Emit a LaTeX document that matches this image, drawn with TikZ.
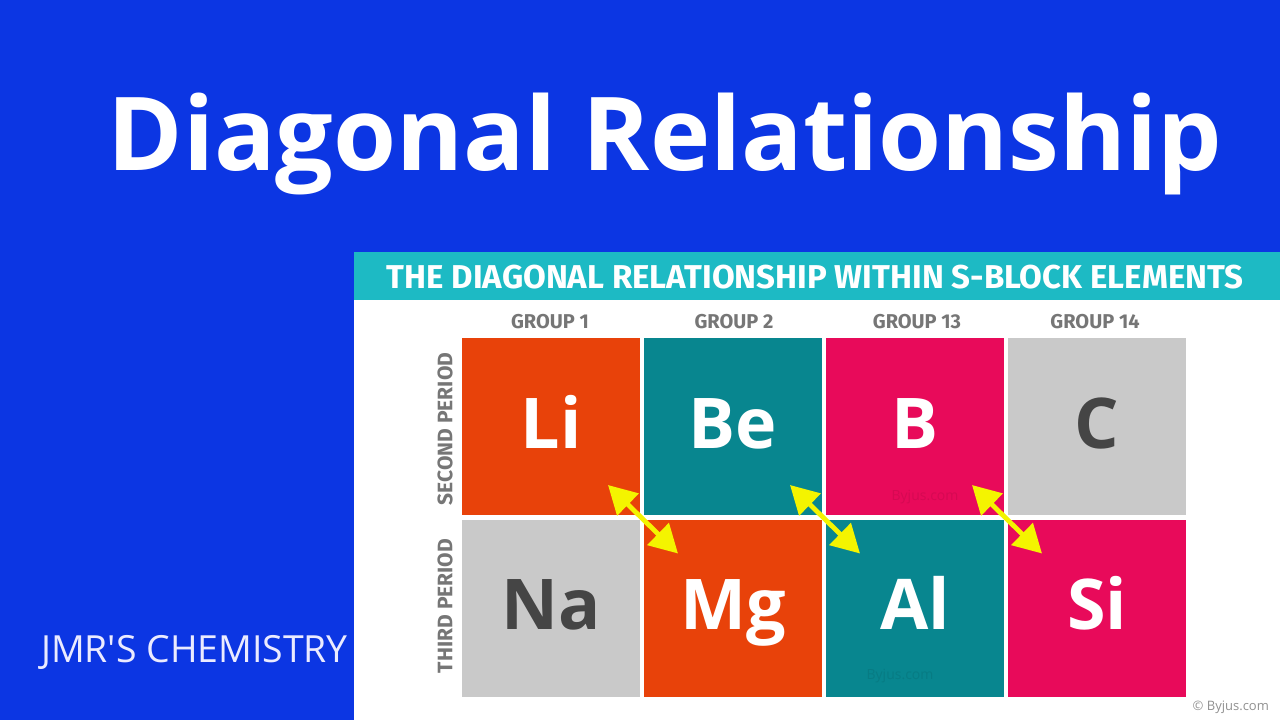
\documentclass[tikz,border=0pt]{standalone}
\usepackage{fontspec}
\setmainfont{Open Sans}
\newfontfamily\condfont{Fira Sans}
\newfontfamily\symfont{Open Sans}
\usetikzlibrary{arrows.meta,calc}
\definecolor{bgblue}{HTML}{0C36E3}
\definecolor{headteal}{HTML}{1DBAC4}
\definecolor{corange}{HTML}{E8420A}
\definecolor{cteal}{HTML}{08868F}
\definecolor{cpink}{HTML}{E80A5A}
\definecolor{cgray}{HTML}{C9C9C9}
\definecolor{lblgray}{HTML}{767676}
\definecolor{darktxt}{HTML}{454545}
\definecolor{arrowyellow}{HTML}{F4F400}
\tikzset{
  cell/.style={minimum width=89pt, minimum height=88.5pt, inner sep=0pt, outer sep=0pt,
     text height=21.5pt, text depth=0pt,
     font=\symfont\bfseries\fontsize{35}{35}\selectfont, text=white},
  grouplbl/.style={font=\condfont\bfseries\fontsize{10}{11}\selectfont, text=lblgray},
  periodlbl/.style={font=\condfont\bfseries\fontsize{10.5}{11}\selectfont, text=lblgray, rotate=90},
  diagarrow/.style={draw=arrowyellow, line width=2.4pt,
     {Triangle[length=14pt,width=15pt]}-{Triangle[length=14pt,width=15pt]}},
  wmark/.style={font=\fontsize{7}{8}\selectfont, text=black, opacity=0.08}
}
\begin{document}
\begin{tikzpicture}[x=0.5pt,y=-0.5pt]
\useasboundingbox (0,0) rectangle (1280,720);
\fill[bgblue] (0,0) rectangle (1280,720);
% panel
\fill[white] (354,252) rectangle (1280,720);
\fill[headteal] (354,252) rectangle (1280,300);
\node[font=\condfont\bfseries\fontsize{16.5}{18}\selectfont, text=white] (head) at (815,277) {THE DIAGONAL RELATIONSHIP WITHIN S-BLOCK ELEMENTS};
% title
\node[font=\bfseries\fontsize{51}{52}\selectfont, text=white, anchor=base] (title) at (665,170) {Diagonal Relationship};
% cells
\node[cell, fill=corange] (Li) at (551,426.5) {Li};
\node[cell, fill=cteal] (Be) at (733,426.5) {Be};
\node[cell, fill=cpink] (B) at (915,426.5) {B};
\node[cell, fill=cgray, text=darktxt] (C) at (1097,426.5) {C};
\node[cell, fill=cgray, text=darktxt] (Na) at (551,608) {Na};
\node[cell, fill=corange] (Mg) at (733,608) {Mg};
\node[cell, fill=cteal] (Al) at (915,608) {Al};
\node[cell, fill=cpink] (Si) at (1097,608) {Si};
% group labels
\node[grouplbl] (g1) at (550,322) {GROUP 1};
\node[grouplbl] (g2) at (734,322) {GROUP 2};
\node[grouplbl] (g13) at (917,322) {GROUP 13};
\node[grouplbl] (g14) at (1095,322) {GROUP 14};
\node[periodlbl] (p2) at (445,429) {SECOND PERIOD};
\node[periodlbl] (p3) at (445,606) {THIRD PERIOD};
% watermarks
\node[wmark] (w1) at (925,497) {Byjus.com};
\node[wmark] (w2) at (900,676) {Byjus.com};
\node[font=\fontsize{6.5}{7}\selectfont, text=lblgray!80, anchor=east] (copy) at (1276,707) {© Byjus.com};
% arrows
\coordinate (a1s) at ($(Li.south east)+(-32,-30)$);
\coordinate (a1e) at ($(Mg.north west)+(34,34)$);
\coordinate (a2s) at ($(Be.south east)+(-32,-30)$);
\coordinate (a2e) at ($(Al.north west)+(34,34)$);
\coordinate (a3s) at ($(B.south east)+(-32,-30)$);
\coordinate (a3e) at ($(Si.north west)+(34,34)$);
\draw[diagarrow] (a1s) -- (a1e);
\draw[diagarrow] (a2s) -- (a2e);
\draw[diagarrow] (a3s) -- (a3e);
% footer name
\node[font=\fontsize{18.7}{20}\selectfont, text=white!92!blue, anchor=base west] (jmr) at (34,662) {JMR\textquotesingle S CHEMISTRY};
\end{tikzpicture}
\end{document}
